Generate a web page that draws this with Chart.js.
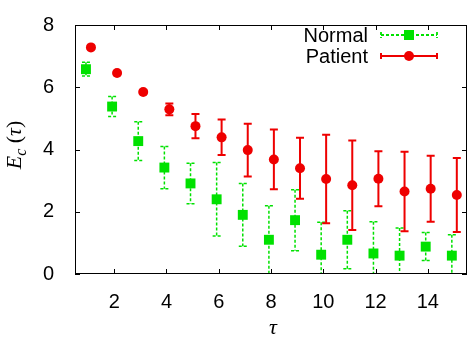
<!DOCTYPE html>
<html>
<head>
<meta charset="utf-8">
<script src="https://cdn.jsdelivr.net/npm/chart.js@4.4.1/dist/chart.umd.min.js"></script>
<style>
  body { margin: 0; background: #fff; }
  #wrap { width: 474px; height: 340px; }
</style>
</head>
<body>
<div id="wrap"><canvas id="ecChart"></canvas></div>
<script>
// data
var tau = [1, 2, 3, 4, 5, 6, 7, 8, 9, 10, 11, 12, 13, 14, 15];
var normalMean = [6.58, 5.38, 4.27, 3.42, 2.91, 2.40, 1.90, 1.10, 1.73, 0.62, 1.10, 0.66, 0.59, 0.88, 0.59];
var normalErr  = [0.22, 0.32, 0.62, 0.68, 0.65, 1.18, 1.01, 1.09, 0.98, 1.04, 0.93, 1.02, 0.89, 0.45, 0.67];
var patientMean = [7.28, 6.46, 5.85, 5.29, 4.75, 4.39, 3.98, 3.68, 3.40, 3.05, 2.85, 3.06, 2.65, 2.74, 2.54];
var patientErr  = [0.05, 0.05, 0.05, 0.19, 0.39, 0.57, 0.85, 0.96, 0.98, 1.42, 1.44, 0.88, 1.28, 1.06, 1.19];
var xTicks = [2, 4, 6, 8, 10, 12, 14];
var yTicks = [0, 2, 4, 6, 8];
// small horizontal shift so the two groups don't overlap
var normalShift = -0.08;
var patientShift = 0.11;

var GREEN = 'rgb(0,225,0)';
var RED = 'rgb(238,0,0)';

function toPoints(means, errs, shift) {
    return tau.map(function (t, i) {
        return { x: t + shift, y: means[i], err: errs[i] };
    });
}

// vertical error bars with caps, clipped to the plot box
var errorBars = {
    id: 'errorBars',
    beforeDatasetsDraw: function (chart) {
        var ctx = chart.ctx, area = chart.chartArea;
        var xs = chart.scales.x, ys = chart.scales.y;
        ctx.save();
        ctx.beginPath();
        ctx.rect(area.left, area.top, area.right - area.left, area.bottom - area.top);
        ctx.clip();
        chart.data.datasets.forEach(function (ds) {
            ctx.strokeStyle = ds.borderColor;
            ctx.lineWidth = ds.barWidth;
            ctx.setLineDash(ds.barDash);
            ds.data.forEach(function (p) {
                var px = xs.getPixelForValue(p.x);
                var top = ys.getPixelForValue(p.y + p.err);
                var bot = ys.getPixelForValue(p.y - p.err);
                ctx.beginPath();
                ctx.moveTo(px, top); ctx.lineTo(px, bot);
                ctx.moveTo(px - 4, top); ctx.lineTo(px + 4, top);
                ctx.moveTo(px - 4, bot); ctx.lineTo(px + 4, bot);
                ctx.stroke();
            });
        });
        ctx.restore();
    }
};

// gnuplot style frame, inward ticks, legend and axis titles
var decorations = {
    id: 'decorations',
    afterDraw: function (chart) {
        var ctx = chart.ctx, a = chart.chartArea;
        var xs = chart.scales.x, ys = chart.scales.y;
        var tl = 5;
        ctx.save();
        ctx.strokeStyle = '#000';
        ctx.lineWidth = 1;
        ctx.setLineDash([]);
        ctx.strokeRect(a.left + 0.5, a.top + 0.5, a.right - a.left - 1, a.bottom - a.top - 1);
        ctx.beginPath();
        xTicks.forEach(function (v) {
            var px = Math.round(xs.getPixelForValue(v)) + 0.5;
            ctx.moveTo(px, a.bottom); ctx.lineTo(px, a.bottom - tl);
            ctx.moveTo(px, a.top); ctx.lineTo(px, a.top + tl);
        });
        yTicks.forEach(function (v) {
            var py = Math.round(ys.getPixelForValue(v)) + 0.5;
            ctx.moveTo(a.left, py); ctx.lineTo(a.left + tl, py);
            ctx.moveTo(a.right, py); ctx.lineTo(a.right - tl, py);
        });
        ctx.stroke();

        // legend
        var entries = [
            { label: 'Normal', color: GREEN, dash: [3, 2], width: 1.8, shape: 'rect', y: 35 },
            { label: 'Patient', color: RED, dash: [], width: 2, shape: 'circle', y: 56 }
        ];
        ctx.font = '20px "Liberation Sans", Arial, sans-serif';
        ctx.textAlign = 'right';
        ctx.textBaseline = 'middle';
        entries.forEach(function (e) {
            ctx.fillStyle = '#000';
            ctx.fillText(e.label, 368, e.y + 1);
            ctx.strokeStyle = e.color;
            ctx.fillStyle = e.color;
            ctx.lineWidth = e.width;
            ctx.setLineDash(e.dash);
            ctx.beginPath();
            ctx.moveTo(381, e.y); ctx.lineTo(437, e.y);
            ctx.moveTo(381, e.y - 3); ctx.lineTo(381, e.y + 3);
            ctx.moveTo(437, e.y - 3); ctx.lineTo(437, e.y + 3);
            ctx.stroke();
            ctx.setLineDash([]);
            ctx.beginPath();
            if (e.shape === 'rect') ctx.rect(404, e.y - 5, 10, 10);
            else ctx.arc(409, e.y, 5, 0, Math.PI * 2);
            ctx.fill();
        });

        // x title
        ctx.fillStyle = '#000';
        ctx.textAlign = 'center';
        ctx.textBaseline = 'alphabetic';
        ctx.font = 'italic 22px "Liberation Serif", "Times New Roman", serif';
        ctx.fillText('τ', 273, 334);

        // y title: E_c (τ), rotated
        ctx.translate(21, 145);
        ctx.rotate(-Math.PI / 2);
        var big = 'italic 22px "Liberation Serif", serif';
        var small = 'italic 16px "Liberation Serif", serif';
        var plain = '22px "Liberation Serif", serif';
        ctx.font = big;
        var wE = ctx.measureText('E').width;
        var wt = ctx.measureText('τ').width;
        ctx.font = small;
        var wc = ctx.measureText('c').width;
        ctx.font = plain;
        var wo = ctx.measureText(' (').width;
        var wcl = ctx.measureText(')').width;
        var x0 = -(wE + wc + wo + wt + wcl) / 2;
        ctx.textAlign = 'left';
        ctx.font = big;
        ctx.fillText('E', x0, 0); x0 += wE;
        ctx.font = small;
        ctx.fillText('c', x0, 5); x0 += wc;
        ctx.font = plain;
        ctx.fillText(' (', x0, 0); x0 += wo;
        ctx.font = big;
        ctx.fillText('τ', x0, 0); x0 += wt;
        ctx.font = plain;
        ctx.fillText(')', x0, 0);
        ctx.restore();
    }
};

var ctx = document.getElementById('ecChart').getContext('2d');
var ecChart = new Chart(ctx, {
    type: 'scatter',
    data: {
        datasets: [{
            label: 'Normal',
            data: toPoints(normalMean, normalErr, normalShift),
            pointStyle: 'rect',
            pointRadius: 7,
            backgroundColor: GREEN,
            borderColor: GREEN,
            borderWidth: 0,
            barWidth: 1.5,
            barDash: [3, 2]
        }, {
            label: 'Patient',
            data: toPoints(patientMean, patientErr, patientShift),
            pointStyle: 'circle',
            pointRadius: 5,
            backgroundColor: RED,
            borderColor: RED,
            borderWidth: 0,
            barWidth: 2,
            barDash: []
        }]
    },
    options: {
        responsive: true,
        maintainAspectRatio: false,
        animation: false,
        layout: { padding: { top: 11, right: 4, left: 0, bottom: 0 } },
        plugins: {
            legend: { display: false },
            tooltip: { enabled: false }
        },
        scales: {
            x: {
                type: 'linear',
                min: 0.5,
                max: 15.5,
                grid: { display: false },
                border: { display: false },
                afterBuildTicks: function (axis) {
                    axis.ticks = xTicks.map(function (v) { return { value: v }; });
                },
                afterFit: function (axis) { axis.height = 66; },
                ticks: {
                    color: '#000',
                    padding: 8,
                    maxRotation: 0,
                    font: { family: '"Liberation Sans", Arial, sans-serif', size: 20 }
                }
            },
            y: {
                min: 0,
                max: 8,
                grid: { display: false },
                border: { display: false },
                afterBuildTicks: function (axis) {
                    axis.ticks = yTicks.map(function (v) { return { value: v }; });
                },
                afterFit: function (axis) { axis.width = 75; },
                ticks: {
                    color: '#000',
                    padding: 13,
                    font: { family: '"Liberation Sans", Arial, sans-serif', size: 20 }
                }
            }
        }
    },
    plugins: [errorBars, decorations]
});
</script>
</body>
</html>
